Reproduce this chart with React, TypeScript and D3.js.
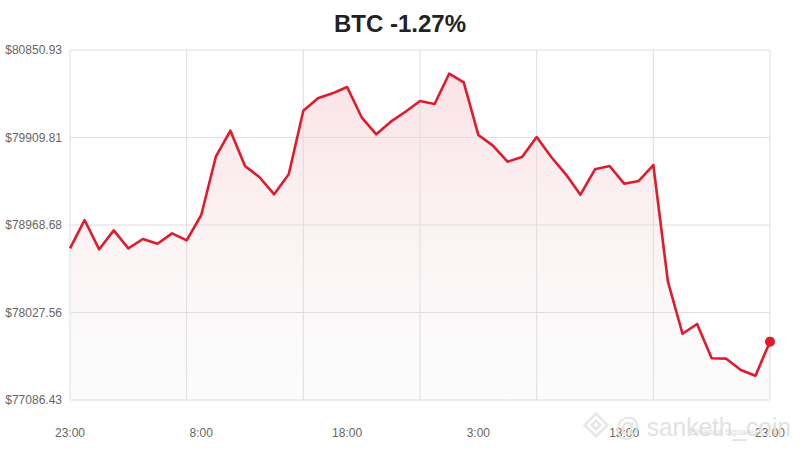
import React from 'react'
import * as d3 from 'd3'

// hourly BTC closes, 23:00 -> 23:00 next day
const prices = [
  78718, 79022, 78707, 78911, 78718, 78818, 78767, 78879, 78804, 79076,
  79703, 79983, 79603, 79482, 79299, 79514, 80198, 80331, 80385, 80453,
  80127, 79944, 80080, 80187, 80302, 80270, 80596, 80503, 79937, 79822,
  79650, 79700, 79915, 79700, 79514, 79295, 79568, 79603, 79413, 79442,
  79614, 78359, 77799, 77904, 77535, 77531, 77409, 77348, 77714,
]
const yTicks = [77086.43, 78027.56, 78968.68, 79909.81, 80850.93]
const xLabels = ['23:00', '8:00', '18:00', '3:00', '13:00', '23:00']
const xLabelIdx = [0, 9, 19, 28, 38, 48]
const xGridIdx = [0, 8, 16, 24, 32, 40, 48]
const title = 'BTC -1.27%'

const W = 800
const H = 450
const m = { top: 50, right: 30, bottom: 50, left: 70 }

export default function App() {
  const x = d3.scaleLinear().domain([0, prices.length - 1]).range([m.left, W - m.right])
  const y = d3.scaleLinear().domain([yTicks[0], yTicks[yTicks.length - 1]]).range([H - m.bottom, m.top])

  const line = d3.line<number>().x((_, i) => x(i)).y(d => y(d))
  const area = d3.area<number>().x((_, i) => x(i)).y0(y(yTicks[0])).y1(d => y(d))

  const last = prices.length - 1

  return (
    <svg width={W} height={H} style={{ position: 'absolute', left: 0, top: 0, fontFamily: '"Liberation Sans", Arial, sans-serif' }}>
      <defs>
        <linearGradient id="fill" x1="0" y1={m.top} x2="0" y2={H - m.bottom} gradientUnits="userSpaceOnUse">
          <stop offset="0" stopColor="rgb(226,29,56)" stopOpacity={0.14} />
          <stop offset="1" stopColor="rgb(200,200,200)" stopOpacity={0.05} />
        </linearGradient>
      </defs>
      <rect width={W} height={H} fill="#fff" />

      <text x={W / 2} y={32} textAnchor="middle" fontSize={24} fontWeight="bold" fill="#222">{title}</text>

      <path d={area(prices) ?? ''} fill="url(#fill)" />

      {yTicks.map((t, i) => (
        <g key={'y' + i}>
          <line x1={m.left} x2={W - m.right} y1={y(t)} y2={y(t)} stroke={i === 0 || i === yTicks.length - 1 ? '#eee' : '#ddd'} strokeWidth={i === 0 || i === yTicks.length - 1 ? 2 : 1} />
          <text x={62} y={y(t)} dy="0.35em" textAnchor="end" fontSize={12} fill="#666">${t.toFixed(2)}</text>
        </g>
      ))}
      {xGridIdx.map((d, i) => (
        <line key={'x' + i} x1={x(d)} x2={x(d)} y1={m.top} y2={H - m.bottom}
          stroke={i === 0 || i === xGridIdx.length - 1 ? '#eee' : '#ddd'} strokeWidth={i === 0 || i === xGridIdx.length - 1 ? 2 : 1} />
      ))}
      {xLabels.map((l, i) => (
        <text key={'l' + i} x={x(xLabelIdx[i])} y={437} textAnchor="middle" fontSize={12} fill="#666">{l}</text>
      ))}

      <path d={line(prices) ?? ''} fill="none" stroke="#e01b2b" strokeWidth={2.6} strokeLinejoin="round" />
      <circle cx={x(last)} cy={y(prices[last])} r={5} fill="#e01b2b" />

      {/* watermark */}
      <g>
        <g transform="translate(596,425) rotate(45)" fill="none" stroke="#e6e6e6" strokeWidth={2.5}>
          <rect x={-8} y={-8} width={16} height={16} />
          <rect x={-3} y={-3} width={6} height={6} />
        </g>
        <text x={615} y={436} fontSize={26} fill="#e2e2e2" textLength={176} lengthAdjust="spacingAndGlyphs">@ sanketh_coin</text>
        <text x={690} y={435} fontSize={9} fill="#d9d9d9">Binance Square</text>
      </g>
    </svg>
  )
}
